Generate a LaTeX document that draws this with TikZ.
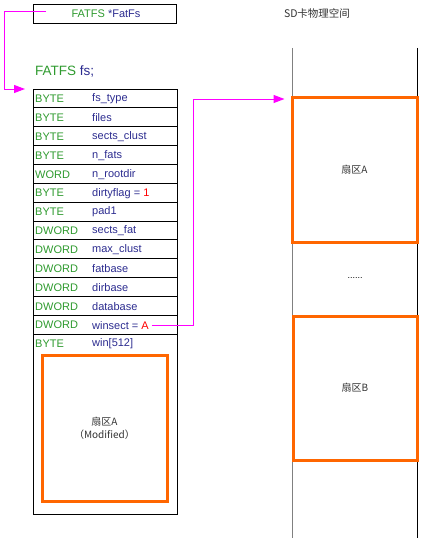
\documentclass[tikz,border=0pt]{standalone}
\usepackage{fontspec}
\setmainfont{Liberation Sans}
\newfontfamily\cjk{Noto Sans CJK SC}
\usetikzlibrary{arrows.meta}
\definecolor{tgreen}{HTML}{2E9A2E}
\definecolor{tblue}{HTML}{2B2B8F}
\definecolor{torange}{HTML}{FF6600}
\definecolor{tmag}{HTML}{FF00FF}
\definecolor{tred}{HTML}{FF0000}
\definecolor{tgray}{HTML}{333333}
\begin{document}
\begin{tikzpicture}[x=1pt,y=-1pt,
  cell/.style={draw=black,line width=0.8pt,minimum width=144pt,minimum height=18.85pt,inner sep=0pt,outer sep=0pt},
  ttype/.style={anchor=west,inner sep=0pt,text=tgreen,font=\fontsize{11}{12}\selectfont},
  tname/.style={anchor=west,inner sep=0pt,text=tblue,font=\fontsize{11}{12}\selectfont},
  sector/.style={draw=torange,line width=3pt,inner sep=0pt},
  conn/.style={draw=tmag,line width=1pt,-{Triangle[length=11pt,width=8pt]}},
  lbl/.style={text=tgray,font=\cjk\fontsize{10}{13}\selectfont,align=center}
]
\useasboundingbox (0,0) rectangle (423,543);
% top pointer box
\node[draw=black,line width=0.8pt,minimum width=143pt,minimum height=19pt,inner sep=0pt] (ptr) at (104.5,13.5) {};
\node[inner sep=0pt,font=\fontsize{11}{12}\selectfont] (ptrtext) at (106,13.5) {\textcolor{tgreen}{FATFS} \textcolor{tblue}{*FatFs}};
\coordinate (p0) at (46,12);
% title of struct
\node[anchor=west,inner sep=0pt,font=\fontsize{13.5}{15}\selectfont] (fstitle) at (35,71) {\textcolor{tgreen}{FATFS} \textcolor{tblue}{fs;}};
% table rows
\foreach \i/\t/\n in {1/BYTE/{fs\_type},2/BYTE/{files},3/BYTE/{sects\_clust},4/BYTE/{n\_fats},5/WORD/{n\_rootdir},6/BYTE/{dirtyflag = \textcolor{tred}{1}},7/BYTE/{pad1},8/DWORD/{sects\_fat},9/DWORD/{max\_clust},10/DWORD/{fatbase},11/DWORD/{dirbase},12/DWORD/{database},13/DWORD/{winsect = \textcolor{tred}{A}}}{
  \node[cell] (r\i) at (105,{89+(\i-0.5)*18.85}) {};
  \node[ttype] (t\i) at (35,{89.5+(\i-0.5)*18.85}) {\t};
  \node[tname] (n\i) at (92,{89.5+(\i-0.5)*18.85}) {\n};
}
\node[cell,minimum height=180pt] (r14) at (105,424) {};
\node[ttype] (t14) at (35,343.5) {BYTE};
\node[tname] (n14) at (92,343.5) {win[512]};
\node[sector,minimum width=125pt,minimum height=146pt] (winA) at (104.5,428) {};
\node[lbl] (winAlbl) at (104.5,428) {扇区A\\（Modified）};
% SD card space
\node[lbl,font=\cjk\fontsize{10.5}{12}\selectfont] (sdtitle) at (317,13) {SD卡物理空间};
\coordinate (sdTL) at (292,48);
\coordinate (sdBL) at (292,538);
\coordinate (sdTR) at (417,48);
\coordinate (sdBR) at (417,538);
\draw[gray,line width=0.8pt] (sdTL) -- (sdBL);
\draw[black,line width=0.8pt] (sdTR) -- (sdBR);
\node[sector,minimum width=125pt,minimum height=145pt,fill=white] (secA) at (354.5,169.5) {};
\node[lbl] (secAlbl) at (354.5,169.5) {扇区A};
\node[inner sep=0pt,font=\fontsize{9}{10}\selectfont] (dots) at (355,278) {......};
\node[sector,minimum width=124pt,minimum height=144pt,fill=white] (secB) at (355,388) {};
\node[lbl] (secBlbl) at (355,388) {扇区B};
% connectors
\coordinate (bend) at (193,99);
\draw[conn,shorten >=8pt] (p0) -- (4,12) |- (r1.north west);
\draw[conn,shorten >=6pt] ([xshift=3pt]n13.east) -| (bend) -- (bend -| secA.west);
\end{tikzpicture}
\end{document}
